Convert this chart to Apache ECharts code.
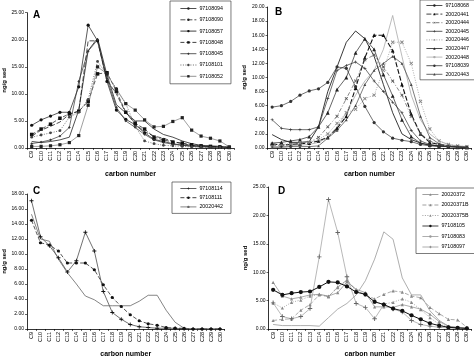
<!DOCTYPE html>
<html><head><meta charset="utf-8">
<script src="https://cdn.jsdelivr.net/npm/echarts@6/dist/echarts.min.js"></script>
<style>html,body{margin:0;padding:0;background:#fff}#c{width:474px;height:359px}</style>
</head><body><div id="c"></div>
<script>
const categories = ['C9','C10','C11','C12','C13','C14','C15','C16','C17','C18','C19','C20','C21','C22','C23','C24','C25','C26','C27','C28','C29','C30'];
const yTicksA = [0,5,10,15,20,25];
const yTicksB = [0,2,4,6,8,10,12,14,16,18,20];
const yTicksC = [0,2,4,6,8,10,12,14,16,18];
const yTicksD = [0,5,10,15,20,25];

// Panel A
const a_97108094 = [1.2,1.0,1.2,1.5,2.0,7.0,18.0,20.3,13.5,8.0,6.5,5.0,5.0,3.5,2.5,2.0,1.3,0.8,0.5,0.4,0.3,0.1];
const a_97108090 = [2.2,3.3,4.0,4.8,6.2,6.8,19.8,19.8,12.5,10.0,6.5,4.5,3.0,2.2,1.8,1.2,0.8,0.5,0.3,0.2,0.2,0.1];
const a_97108057 = [4.2,5.2,5.9,6.6,6.6,11.3,22.7,19.8,12.3,7.0,5.3,4.3,2.8,1.6,1.2,0.8,0.5,0.4,0.3,0.2,0.2,0.1];
const a_97108048 = [2.5,3.5,4.4,5.5,6.3,6.8,8.6,13.7,13.9,10.5,6.6,4.6,3.5,2.0,1.5,1.1,0.9,0.6,0.4,0.3,0.2,0.1];
const a_97108045 = [0.8,1.1,1.5,2.2,3.8,12.3,17.9,20.0,12.8,7.5,5.0,3.8,2.5,1.5,1.0,0.7,0.5,0.3,0.2,0.2,0.1,0.1];
const a_97108101 = [2.0,2.4,2.8,3.2,5.7,6.6,9.0,16.0,13.5,11.0,8.2,4.0,1.3,0.8,0.5,0.4,0.3,0.2,0.2,0.1,0.1,0.1];
const a_97108052 = [0.3,0.3,0.4,0.6,1.0,2.3,7.9,15.0,13.7,10.8,8.2,7.0,5.2,3.9,4.0,4.9,5.6,3.3,2.2,1.8,1.3,0.2];

// Panel B
const b_97108068 = [1.9,1.2,0.8,0.8,0.9,3.0,8.0,11.5,15.0,16.6,15.5,13.0,9.0,5.0,2.0,1.2,0.7,0.4,0.3,0.2,0.2,0.1];
const b_20020441 = [0.6,0.4,0.5,0.6,0.7,1.0,1.5,2.8,4.5,8.5,12.8,16.0,16.0,13.8,9.0,4.8,2.0,0.8,0.5,0.3,0.2,0.1];
const b_20020444 = [0.3,0.4,0.5,0.6,0.8,1.5,3.0,4.5,7.0,9.5,12.5,13.2,11.5,9.5,7.5,4.5,2.0,1.0,0.5,0.3,0.2,0.1];
const b_20020445 = [4.0,2.8,2.6,2.6,2.6,3.0,7.0,11.0,11.7,12.2,11.3,9.5,8.0,6.5,5.0,2.5,1.0,0.5,0.3,0.2,0.2,0.1];
const b_20020446 = [0.5,0.5,0.6,0.7,0.8,1.2,2.0,3.5,5.0,5.5,7.0,7.5,11.0,15.0,15.0,12.0,6.6,2.7,1.0,0.5,0.3,0.2];
const b_20020447 = [0.7,0.8,1.0,1.2,1.6,3.0,5.0,8.3,10.0,13.5,15.5,14.0,10.4,7.4,4.0,1.6,0.7,0.4,0.3,0.2,0.1,0.1];
const b_20020448 = [0.2,0.2,0.3,0.4,0.5,0.8,1.5,3.0,5.0,7.5,9.5,11.0,14.0,18.8,13.0,7.5,4.0,2.0,1.0,0.5,0.3,0.2];
const b_97108039 = [5.8,6.0,6.6,7.5,8.1,8.4,9.3,11.5,11.3,8.7,5.9,3.6,2.3,1.4,1.1,0.9,0.5,0.3,0.2,0.2,0.1,0.1];
const b_20020443 = [0.1,0.1,0.2,0.2,0.2,0.3,1.4,2.5,4.0,6.0,9.0,11.0,12.0,13.0,12.0,9.0,4.5,1.5,0.6,0.3,0.2,0.1];

// Panel C
const c_97108114 = [17.1,12.3,11.1,9.5,7.6,9.1,12.9,10.4,5.0,2.2,1.3,0.6,0.3,0.2,0.1,0.1,0.1,0.0,0.0,0.0,0.0,0.0];
const c_97108111 = [14.5,11.5,11.2,10.4,8.8,8.8,8.8,7.9,5.9,4.2,3.0,1.9,1.1,0.7,0.5,0.2,0.1,0.1,0.0,0.0,0.0,0.0];
const c_20020442 = [15.3,12.0,11.7,9.3,7.5,6.0,4.4,3.9,3.1,3.1,3.1,3.1,3.7,4.5,4.5,2.5,0.9,0.1,0.0,0.0,0.0,0.0];

// Panel D
const d_20020372  = [8.2,5.8,5.3,5.6,6.0,6.1,5.8,6.4,8.3,7.0,6.4,3.9,3.9,3.8,4.3,3.9,3.5,2.6,1.3,0.5,0.2,0.1];
const d_20020371B = [1.5,1.7,1.8,3.3,4.3,6.0,5.7,7.4,8.6,6.8,6.0,5.3,6.1,6.7,6.5,5.8,5.5,3.8,2.7,1.7,1.6,0.3];
const d_20020375B = [4.6,3.7,4.7,5.1,5.8,6.1,5.7,7.3,8.6,6.7,6.1,4.7,4.4,4.7,5.3,4.7,3.4,2.0,0.8,0.4,0.2,0.1];
const d_97108105  = [6.9,6.0,6.3,6.5,6.6,7.4,8.3,8.2,7.5,6.5,6.1,4.8,4.3,3.6,3.2,2.4,1.7,1.0,0.6,0.3,0.2,0.1];
const d_97108083  = [0.8,0.6,0.6,0.6,0.6,0.5,2.0,3.5,4.5,6.0,8.5,12.3,17.1,15.8,9.0,6.0,6.0,3.2,1.5,0.5,0.3,0.2];
const d_97108097  = [4.6,2.2,1.8,2.2,3.6,12.7,22.8,17.0,9.2,4.5,3.8,1.8,4.3,3.5,3.0,1.5,0.8,0.5,0.3,0.2,0.1,0.1];

const FONT = 'Liberation Sans';
const PLUS = 'path://M4,0H6V4H10V6H6V10H4V6H0V4H4Z';

function mkSeries(name, data, idx, o) {
  return {
    name, type: 'line', data, xAxisIndex: idx, yAxisIndex: idx,
    symbol: o.symbol || 'none', symbolSize: o.size || 3, symbolRotate: o.rot || 0,
    showSymbol: !!o.symbol,
    lineStyle: { color: o.color, width: o.width || 0.7, type: o.type || 'solid' },
    itemStyle: { color: o.mcolor || o.color },
    emphasis: { disabled: true }, animation: false, z: o.z || 2
  };
}

const series = [
  mkSeries('97108094', a_97108094, 0, {color:'#222', width:0.8}),
  mkSeries('97108090', a_97108090, 0, {color:'#222', type:[5,2], width:0.8}),
  mkSeries('97108057', a_97108057, 0, {color:'#111', symbol:'circle', size:3.2}),
  mkSeries('97108048', a_97108048, 0, {color:'#111', type:[4,2], symbol:'rect', size:3.5}),
  mkSeries('97108045', a_97108045, 0, {color:'#333', symbol:'diamond', size:2.8}),
  mkSeries('97108101', a_97108101, 0, {color:'#444', type:[1,1.5], symbol:'circle', size:2.8}),
  mkSeries('97108052', a_97108052, 0, {color:'#777', mcolor:'#222', symbol:'rect', size:3.2}),

  mkSeries('97108068', b_97108068, 1, {color:'#222', width:0.9}),
  mkSeries('20020441', b_20020441, 1, {color:'#111', type:[5,2], width:1.1, symbol:'triangle', size:3.8}),
  mkSeries('20020444', b_20020444, 1, {color:'#555', type:[4,2,1,2], symbol:PLUS, rot:45, size:4}),
  mkSeries('20020445', b_20020445, 1, {color:'#333', symbol:PLUS, size:3}),
  mkSeries('20020446', b_20020446, 1, {color:'#888', type:[1,1.5], symbol:PLUS, rot:45, size:4.5}),
  mkSeries('20020447', b_20020447, 1, {color:'#222', symbol:'triangle', size:3.8}),
  mkSeries('20020448', b_20020448, 1, {color:'#aaa', width:0.8}),
  mkSeries('97108039', b_97108039, 1, {color:'#333', symbol:'circle', size:3.2}),
  mkSeries('20020443', b_20020443, 1, {color:'#444', symbol:'triangle', size:2.8}),

  mkSeries('97108114', c_97108114, 2, {color:'#333', symbol:PLUS, size:4, mcolor:'#111'}),
  mkSeries('97108111', c_97108111, 2, {color:'#111', type:[4,2], symbol:'circle', size:3.2}),
  mkSeries('20020442', c_20020442, 2, {color:'#666', width:0.8}),

  mkSeries('20020372', d_20020372, 3, {color:'#888', symbol:'triangle', size:3.2}),
  mkSeries('20020371B', d_20020371B, 3, {color:'#888', type:[4,2], symbol:'triangle', size:3.2}),
  mkSeries('20020375B', d_20020375B, 3, {color:'#888', type:[1,1.5], symbol:'triangle', size:3.2}),
  mkSeries('97108105', d_97108105, 3, {color:'#111', symbol:'circle', size:4.2, width:1, z:3}),
  mkSeries('97108083', d_97108083, 3, {color:'#999', width:0.8}),
  mkSeries('97108097', d_97108097, 3, {color:'#999', symbol:PLUS, size:4.5, mcolor:'#666'})
];

const grids = [
  {left:25, top:12.7, width:209, height:135.3},
  {left:267.5, top:7, width:204, height:141},
  {left:25.5, top:194, width:199, height:142},
  {left:268.5, top:187, width:203, height:149}
];
const yInfo = [[yTicksA,5,25],[yTicksB,2,20],[yTicksC,2,18],[yTicksD,5,25]];

const xAxis = grids.map((g,i)=>({
  type:'category', gridIndex:i, data:categories, boundaryGap:true,
  name:'carbon number', nameLocation:'middle', nameGap: i<2 ? 23 : 22,
  nameTextStyle:{fontFamily:FONT, fontSize:7, fontWeight:'bold', color:'#000'},
  axisLine:{lineStyle:{color:'#000', width:0.8}},
  axisTick:{show:true, length:2, lineStyle:{color:'#000', width:0.6}},
  axisLabel:{rotate:90, fontSize:5.5, fontFamily:FONT, color:'#000', margin:3, interval:0}
}));
const yAxis = yInfo.map((y,i)=>({
  type:'value', gridIndex:i, min:0, max:y[2], interval:y[1],
  name:'ng/g sed', nameLocation:'middle', nameGap: 20, nameRotate:90,
  nameTextStyle:{fontFamily:FONT, fontSize:6, fontWeight:'bold', color:'#000'},
  axisLine:{show:true, lineStyle:{color:'#000', width:0.8}},
  axisTick:{show:true, length:2, lineStyle:{color:'#000', width:0.6}},
  splitLine:{show:false},
  axisLabel:{fontSize:5, fontFamily:FONT, color:'#000', margin:3, formatter:v=>v.toFixed(2)}
}));

function mkLegend(names, left, top, gap, pad) {
  return {
    data:names, orient:'vertical', left, top, itemGap:gap, itemWidth:16, itemHeight:3,
    padding:pad,
    borderColor:'#444', borderWidth:0.7, backgroundColor:'#fff',
    lineStyle:{width:0.8},
    textStyle:{fontFamily:FONT, fontSize:5.3, color:'#000', padding:[0,0,0,-2]},
    selectedMode:false
  };
}

const legends = [
  mkLegend(['97108094','97108090','97108057','97108048','97108045','97108101','97108052'], 170, 1, 6.3, [5,8,5,10]),
  mkLegend(['97108068','20020441','20020444','20020445','20020446','20020447','20020448','97108039','20020443'], 420, 0, 3.6, [3,6,3,6]),
  mkLegend(['97108114','97108111','20020442'], 172, 182, 4.2, [4,8,4,8]),
  mkLegend(['20020372','20020371B','20020375B','97108105','97108083','97108097'], 416, 188, 5.5, [4,6,4,6])
];

const letters = [['A',33,10],['B',275,7],['C',33,186],['D',278,186]].map(l=>({
  type:'text', left:l[1], top:l[2], style:{text:l[0], fontFamily:FONT, fontSize:10, fontWeight:'bold', fill:'#000'}
}));

const chart = echarts.init(document.getElementById('c'), null, {renderer:'canvas'});
chart.setOption({
  backgroundColor:'#fff', animation:false,
  grid:grids, xAxis, yAxis, legend:legends, series, graphic:letters
});
</script></body></html>
